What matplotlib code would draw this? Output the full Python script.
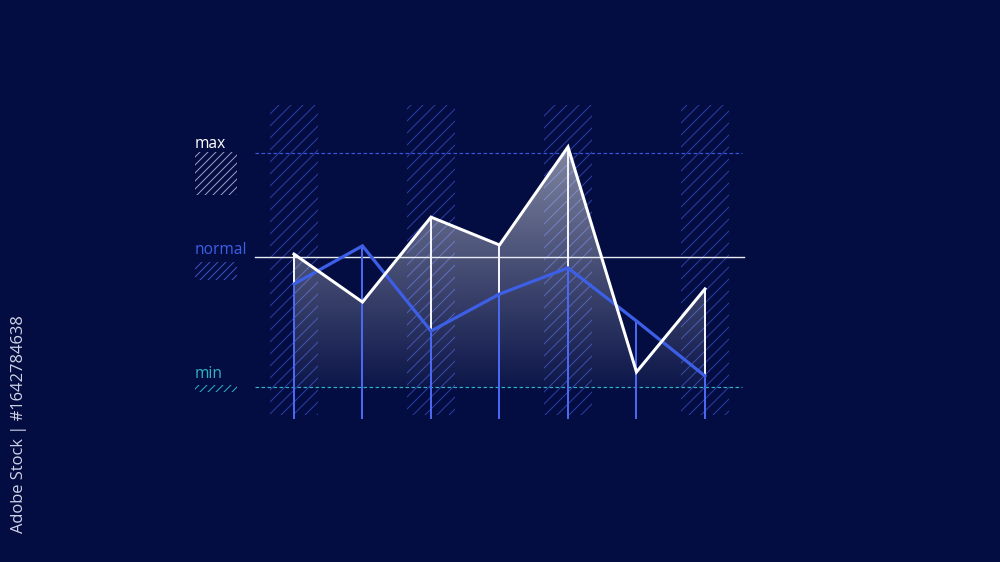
import numpy as np
import matplotlib
matplotlib.use("Agg")
import matplotlib.pyplot as plt
from matplotlib.patches import Rectangle

# chart values (arbitrary units: min line = 0, max line = 100)
x_pos = [0, 1, 2, 3, 4, 5, 6]
white_vals = [56.8, 36.3, 72.6, 60.7, 102.6, 6.4, 41.9]
blue_vals = [44.0, 60.3, 23.9, 39.7, 50.9, 28.2, 4.7]
max_level = 100
normal_level = 55.6
min_level = 0
band_idx = [0, 2, 4, 6]
legend_labels = ["max", "normal", "min"]

bg = "#030d42"
blue = "#3d5fe6"
vblue = "#4a68f0"
teal = "#2fb3c2"

plt.rcParams["hatch.linewidth"] = 1.0
plt.rcParams["font.family"] = ["Open Sans", "DejaVu Sans"]

fig = plt.figure(figsize=(1000 / 72, 562 / 72), dpi=72, facecolor=bg)
ax = fig.add_axes([0, 0, 1, 1])
ax.set_facecolor(bg)
ax.set_xlim(-4.292, 10.307)
ax.set_ylim(-74.79, 165.38)
ax.axis("off")

# hatched bands
for i in band_idx:
    ax.add_patch(Rectangle((x_pos[i] - 0.35, -12), 0.7, 132.5, facecolor="none",
                           edgecolor="#2b3ea6", hatch="//", linewidth=0, zorder=1))

# gradient fill under the white series
poly = ax.fill_between(x_pos, white_vals, min_level, color="none", zorder=2)
top = max(white_vals)
grad = np.zeros((256, 1, 4))
grad[:, 0, :3] = 1.0
grad[:, 0, 3] = np.linspace(0.5, 0.04, 256)
im = ax.imshow(grad, extent=[x_pos[0], x_pos[-1], min_level, top], aspect="auto",
               origin="upper", zorder=2)
im.set_clip_path(poly.get_paths()[0], transform=ax.transData)

# reference lines
ax.plot([-0.57, 6.54], [max_level, max_level], color="#3a55d8", lw=1.2, ls=(0, (3, 2)), zorder=3)
ax.plot([-0.57, 6.57], [normal_level, normal_level], color="#e8eaf4", lw=1.4, zorder=3)
ax.plot([-0.57, 6.54], [min_level, min_level], color=teal, lw=1.2, ls=(0, (3, 2)), zorder=3)

# vertical drop lines
for x, w, b in zip(x_pos, white_vals, blue_vals):
    ax.plot([x, x], [w, -13.2], color="#f2f3fa", lw=2, zorder=4)
    ax.plot([x, x], [b, -13.2], color=vblue, lw=2, zorder=4.1)

# series
ax.plot(x_pos, blue_vals, color=blue, lw=3.2, solid_joinstyle="miter", zorder=5)
ax.plot(x_pos, white_vals, color="white", lw=3, solid_joinstyle="miter", zorder=6)

# legend
ax.text(-1.445, 102.1, legend_labels[0], color="white", fontsize=15.5, va="baseline")
ax.add_patch(Rectangle((-1.445, 82.05), 0.613, 18.3, facecolor="none",
                       edgecolor="#9a9fc4", hatch="///", linewidth=0))
ax.text(-1.445, 56.8, legend_labels[1], color=blue, fontsize=15.5, va="baseline")
ax.add_patch(Rectangle((-1.445, 45.7), 0.613, 7.7, facecolor="none",
                       edgecolor="#3b52c4", hatch="///", linewidth=0))
ax.text(-1.445, 3.8, legend_labels[2], color=teal, fontsize=15.5, va="baseline")
ax.add_patch(Rectangle((-1.445, -2.1), 0.613, 3.0, facecolor="none",
                       edgecolor=teal, hatch="///", linewidth=0))

# stock id on the left edge
fig.text(0.019, 1 - 315 / 562, "Adobe Stock | #1642784638", rotation=90, color="#d0d3e6",
         fontsize=16.5, ha="center", va="top")

fig.savefig("out.png", dpi=72, facecolor=bg)
